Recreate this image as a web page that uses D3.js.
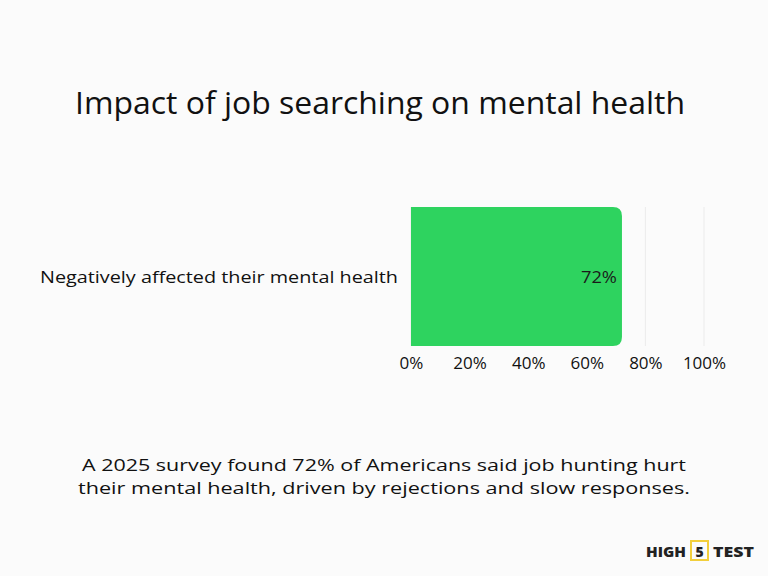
<!DOCTYPE html>
<html><head><meta charset="utf-8">
<script src="https://cdn.jsdelivr.net/npm/d3@7"></script>
<style>body{margin:0;background:#fbfbfb;} svg{display:block;}</style>
</head><body>
<script>
const categories = ["Negatively affected their mental health"];
const values = [72];
const ticks = [0, 20, 40, 60, 80, 100];
const title = "Impact of job searching on mental health";
const caption = ["A 2025 survey found 72% of Americans said job hunting hurt", "their mental health, driven by rejections and slow responses."];

const W = 768, H = 576;
const font = "'Open Sans', sans-serif";
const svg = d3.select("body").append("svg").attr("width", W).attr("height", H);
svg.append("rect").attr("width", W).attr("height", H).attr("fill", "#fbfbfb");

svg.append("text").attr("x", 380).attr("y", 114).attr("text-anchor", "middle")
  .attr("font-family", font).attr("font-size", 31).attr("fill", "#111")
  .attr("textLength", 610).attr("lengthAdjust", "spacingAndGlyphs").text(title);

const x = d3.scaleLinear().domain([0, 100]).range([411, 704]);
const y = d3.scaleBand().domain(categories).range([207, 346]).padding(0);

// gridlines
svg.append("g").selectAll("line").data(ticks).join("line")
  .attr("x1", d => x(d)).attr("x2", d => x(d)).attr("y1", 207).attr("y2", 346)
  .attr("stroke", "#ebebeb").attr("stroke-width", 1);

const r = 9;
svg.append("g").selectAll("path").data(categories).join("path")
  .attr("d", (c, i) => {
    const x0 = x(0), x1 = x(values[i]), y0 = y(c), y1 = y(c) + y.bandwidth();
    return `M${x0},${y0}H${x1 - r}Q${x1},${y0} ${x1},${y0 + r}V${y1 - r}Q${x1},${y1} ${x1 - r},${y1}H${x0}Z`;
  }).attr("fill", "#2ed35f");

svg.append("g").selectAll("text").data(categories).join("text")
  .attr("x", (c, i) => x(values[i]) - 5).attr("y", c => y(c) + y.bandwidth() / 2 + 6)
  .attr("text-anchor", "end").attr("font-family", font).attr("font-size", 17).attr("fill", "#1a1a1a")
  .attr("textLength", 36).attr("lengthAdjust", "spacingAndGlyphs")
  .text((c, i) => values[i] + "%");

// category labels
svg.append("g").selectAll("text").data(categories).join("text")
  .attr("x", 398).attr("y", c => y(c) + y.bandwidth() / 2 + 6)
  .attr("text-anchor", "end").attr("font-family", font).attr("font-size", 16).attr("fill", "#111")
  .attr("textLength", 358).attr("lengthAdjust", "spacingAndGlyphs")
  .text(c => c);

// x axis
const ax = svg.append("g").attr("transform", "translate(0,346)")
  .call(d3.axisBottom(x).tickValues(ticks).tickFormat(d => d + "%").tickSize(0).tickPadding(11));
ax.select(".domain").remove();
ax.selectAll("text").attr("font-family", font).attr("font-size", 17).attr("fill", "#111");

svg.append("g").selectAll("text").data(caption).join("text")
  .attr("x", 384).attr("y", (d, i) => 471 + i * 23).attr("text-anchor", "middle")
  .attr("font-family", font).attr("font-size", 17).attr("fill", "#111")
  .attr("textLength", (d, i) => i === 0 ? 604 : 612).attr("lengthAdjust", "spacingAndGlyphs")
  .text(d => d);

// logo
const logo = svg.append("g").attr("font-family", font).attr("font-weight", 800).attr("font-size", 14).attr("fill", "#222");
logo.append("text").attr("x", 646).attr("y", 557).attr("textLength", 40).attr("lengthAdjust", "spacingAndGlyphs").text("HIGH");
logo.append("rect").attr("x", 691).attr("y", 541).attr("width", 17).attr("height", 19).attr("fill", "none").attr("stroke", "#f2cf3c").attr("stroke-width", 2);
logo.append("text").attr("x", 699.5).attr("y", 557).attr("text-anchor", "middle").text("5");
logo.append("text").attr("x", 713).attr("y", 557).attr("textLength", 41).attr("lengthAdjust", "spacingAndGlyphs").text("TEST");
</script>
</body></html>
